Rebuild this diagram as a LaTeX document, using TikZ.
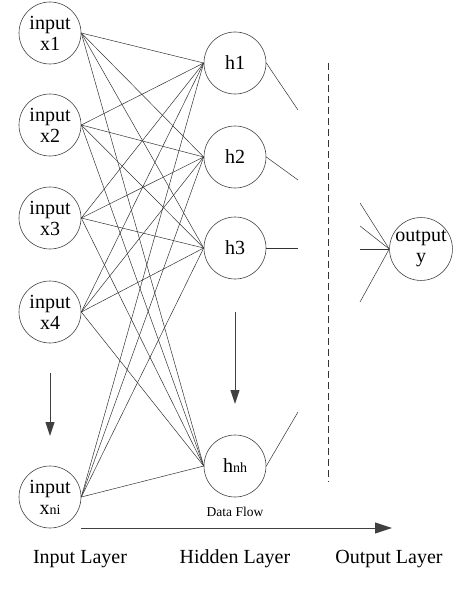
\documentclass[tikz,border=0pt]{standalone}
\usepackage{fontspec}
\setmainfont{Liberation Serif}
\usetikzlibrary{arrows.meta}
\begin{document}
\begin{tikzpicture}[x=1pt, y=-1pt,
    neuron/.style={draw=black!75, line width=0.6pt, circle, minimum size=62pt, inner sep=0pt, font=\fontsize{20}{21}\selectfont, align=center},
    link/.style={draw=black!80, line width=0.5pt},
    flow/.style={draw=black!75, line width=1pt, -{Triangle[length=14pt, width=9pt]}}]
    \useasboundingbox (0,0) rectangle (474,594);

    % Strato di ingresso
    \node[neuron] (in1) at (50,33) {input\\x1};
    \node[neuron] (in2) at (50,125) {input\\x2};
    \node[neuron] (in3) at (50,218) {input\\x3};
    \node[neuron] (in4) at (50,312) {input\\x4};
    \node[neuron] (inn) at (50,497) {input\\x{\fontsize{14}{14}\selectfont ni}};

    % Strato nascosto
    \node[neuron] (hid1) at (235,63) {h1};
    \node[neuron] (hid2) at (235,157) {h2};
    \node[neuron] (hid3) at (235,248) {h3};
    \node[neuron] (hidn) at (235,466) {h{\fontsize{14}{14}\selectfont nh}};

    % Strato di uscita
    \node[neuron] (out) at (421,249) {output\\y};

    % Connessioni ingresso - nascosto
    \foreach \i in {in1,in2,in3,in4,inn}
        \foreach \h in {hid1,hid2,hid3,hidn}
            \draw[link] (\i.east) -- (\h.west);

    % Uscite dei nodi nascosti
    \coordinate (hend1) at (298,110);
    \coordinate (hend2) at (298,180);
    \coordinate (hend3) at (298,248);
    \coordinate (hendn) at (298,412);
    \draw[link] (hid1.east) -- (hend1);
    \draw[link] (hid2.east) -- (hend2);
    \draw[link] (hid3.east) -- (hend3);
    \draw[link] (hidn.east) -- (hendn);

    % Ingressi del nodo di uscita
    \coordinate (oend1) at (360,203);
    \coordinate (oend2) at (360,226);
    \coordinate (oend3) at (360,249);
    \coordinate (oend4) at (360,302);
    \draw[link] (oend1) -- (out.west);
    \draw[link] (oend2) -- (out.west);
    \draw[link] (oend3) -- (out.west);
    \draw[link] (oend4) -- (out.west);

    % Linea tratteggiata
    \coordinate (dtop) at (328,63);
    \coordinate (dbot) at (328,482);
    \draw[link, dash pattern=on 7pt off 4pt] (dtop) -- (dbot);

    % Frecce verticali
    \coordinate (ia) at (50,373);
    \coordinate (ib) at (50,436);
    \coordinate (ha) at (235,312);
    \coordinate (hb) at (235,404);
    \draw[flow] (ia) -- (ib);
    \draw[flow] (ha) -- (hb);

    % Flusso dei dati
    \coordinate (fa) at (81,528);
    \coordinate (fb) at (392,528);
    \draw[flow, -{Triangle[length=17pt, width=11pt]}] (fa) -- (fb);
    \node[font=\fontsize{13.5}{14}\selectfont] (flowlabel) at (235,512) {Data Flow};

    % Nomi degli strati
    \node[font=\fontsize{20}{21}\selectfont] (lin) at (80,559) {Input Layer};
    \node[font=\fontsize{20}{21}\selectfont] (lhid) at (235,559) {Hidden Layer};
    \node[font=\fontsize{20}{21}\selectfont] (lout) at (389,559) {Output Layer};
\end{tikzpicture}
\end{document}
